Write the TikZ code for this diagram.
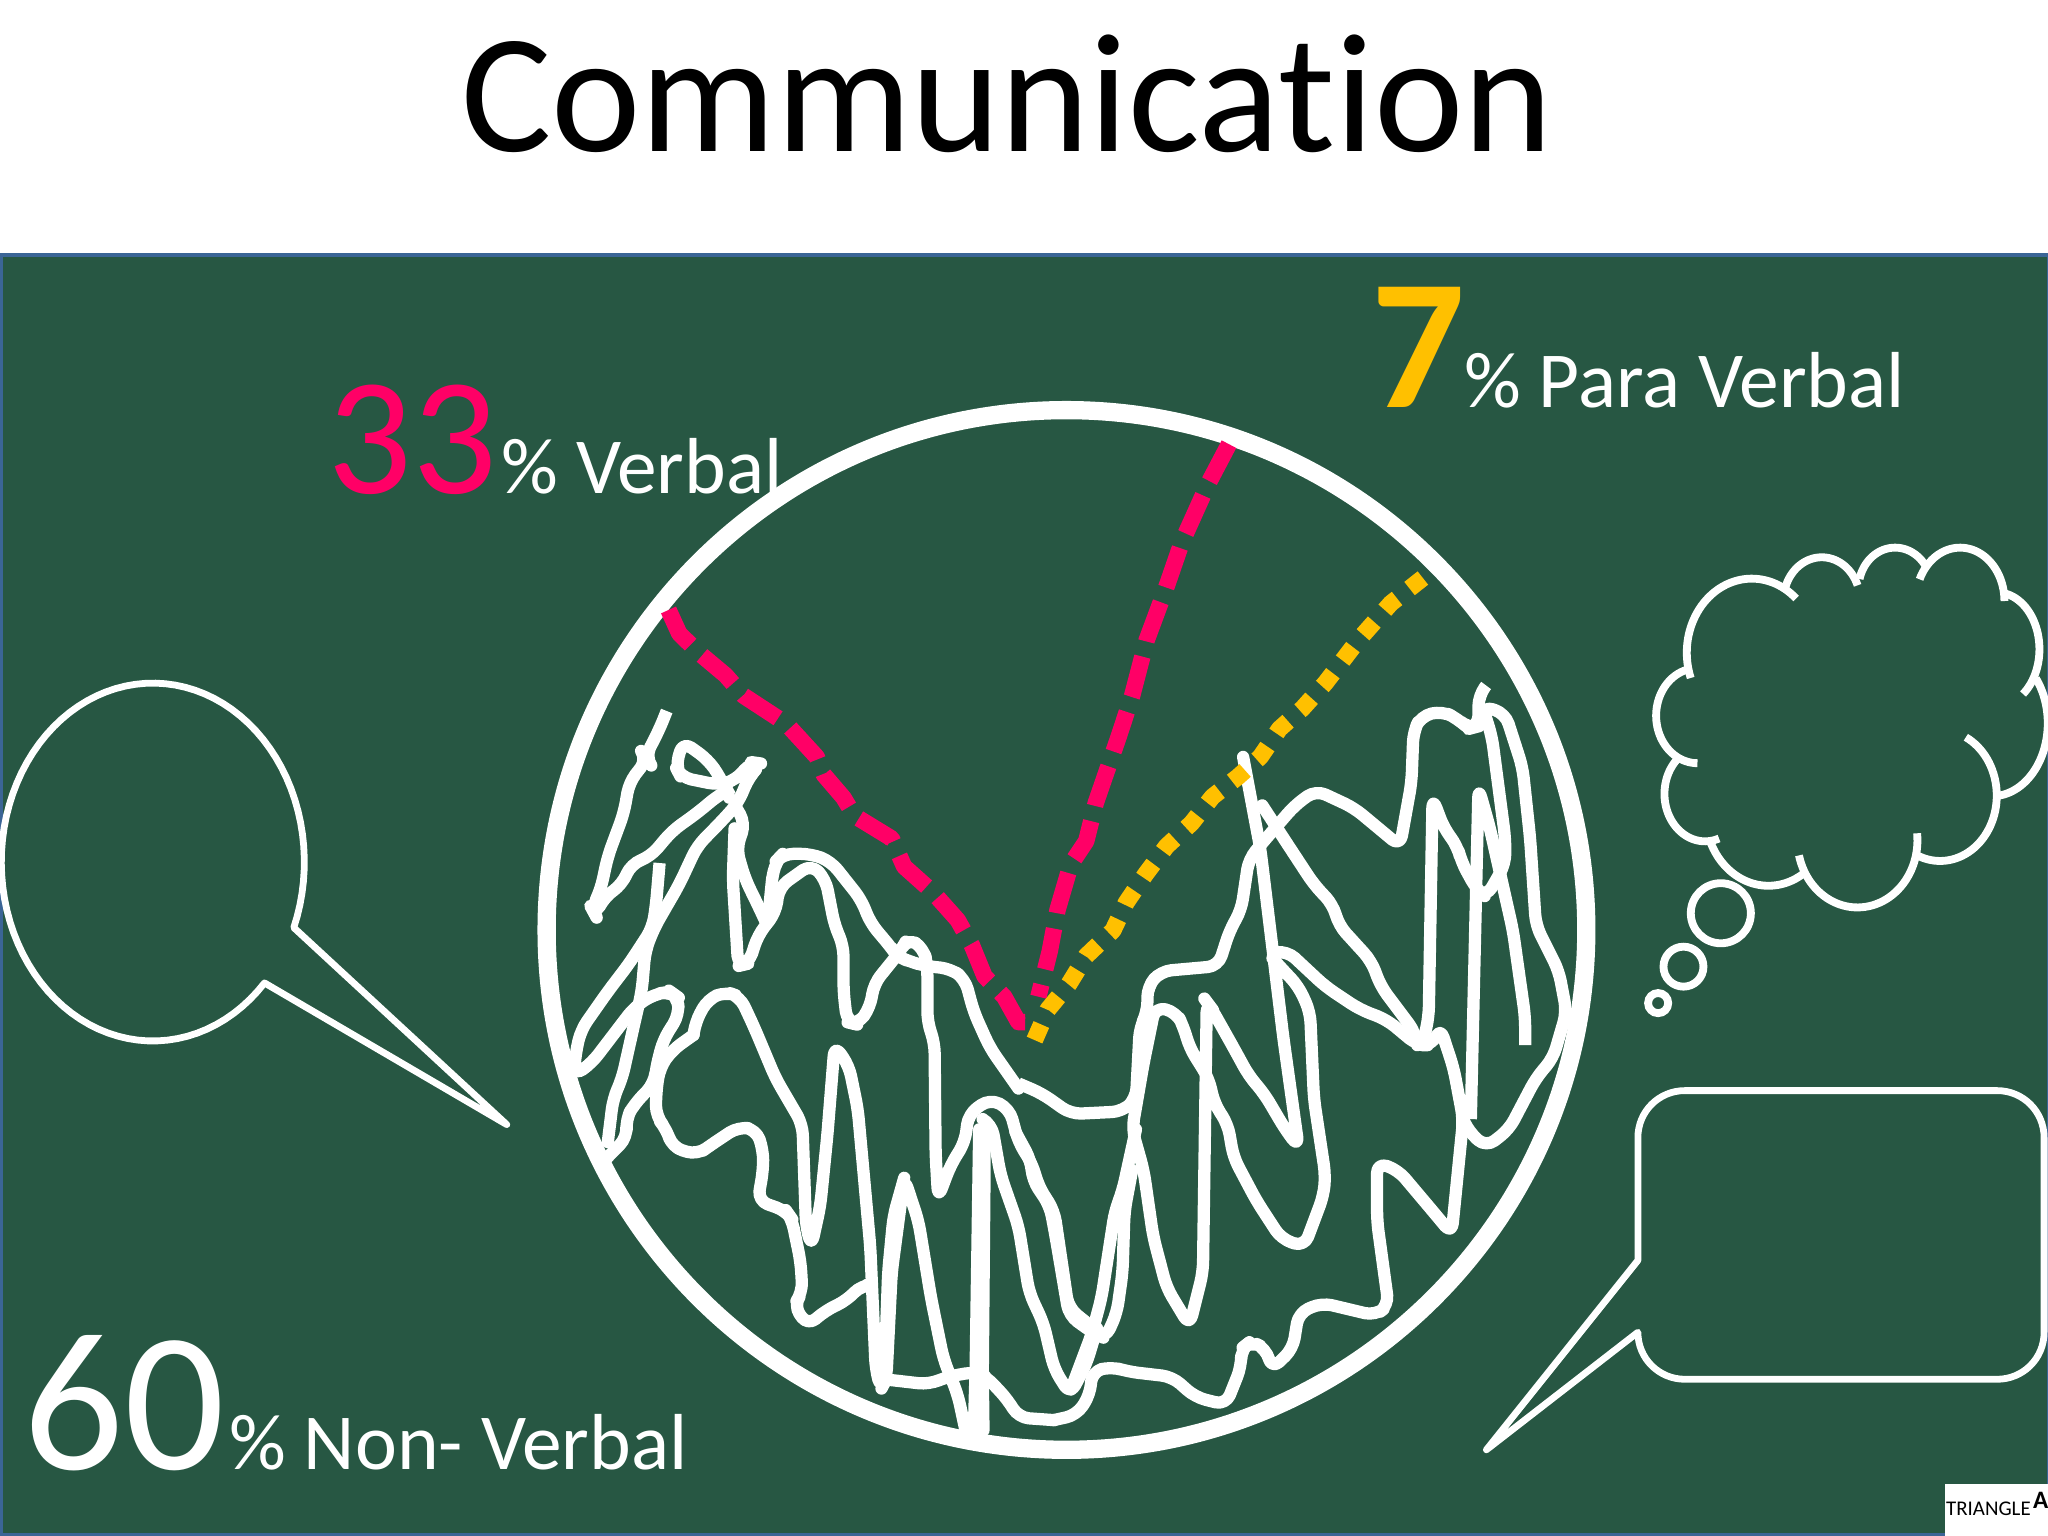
\documentclass[tikz,border=0pt]{standalone}
\usepackage{fontspec}
\setmainfont{Carlito}[Ligatures=NoCommon]
\definecolor{board}{HTML}{275743}
\definecolor{edge}{HTML}{3B6596}
\definecolor{hotpink}{HTML}{FF0066}
\definecolor{amber}{HTML}{FFC000}
\tikzset{
 ridge/.style={draw=white,line width=4.7pt,line join=round,line cap=round,rounded corners=4pt},
 cloudarc/.style={draw=white,line width=3pt,line cap=butt},
 balloon/.style={draw=white,line width=2.6pt,line join=round},
 pinkdash/.style={draw=hotpink,line width=6.3pt,dash pattern=on 16pt off 6pt,line join=round},
 ambdash/.style={draw=amber,line width=6.5pt,dash pattern=on 6.5pt off 6.1pt,line join=round},
 lab/.style={anchor=base west,inner sep=0pt,outer sep=0pt,text=white},
 zone/.style={shift={(413.4,505.3)},x=0.1367pt,y=-0.1953pt},
 ztwo/.style={shift={(765.7,505.3)},x=0.1465pt,y=-0.1953pt},
 zcloud/.style={shift={(1240.4,398.2)},x=0.1276pt,y=-0.1318pt},
}
\newcommand{\fsz}[1]{\fontsize{#1}{#1}\selectfont}
\newcommand{\puff}[6]{\draw[cloudarc] plot[domain=#5:#6,samples=50] ({#1+#3*cos(\x)},{#2+#4*sin(\x)});}
\begin{document}
\begin{tikzpicture}[x=0.5pt,y=-0.5pt]
\useasboundingbox (0,0) rectangle (1568,1176);
\fill[white] (0,0) rectangle (1568,1176);
\path[fill=board,draw=edge,line width=1.6pt] (0.8,195.5) rectangle (1568.5,1175);
\node[lab,text=black] (title) at (353,116) {\fsz{64.9}Communication};
\node[lab,text=hotpink] (n33) at (251,378) {\fsz{64}33};
\node[lab] (t33) at (384,378) {\fsz{30.4}\% Verbal};
\node[lab,text=amber] (n7) at (1050,312) {\fsz{71}\bfseries 7};
\node[lab] (t7) at (1121,312) {\fsz{30.4}\% Para Verbal};
\node[lab] (n60) at (18,1125) {\fsz{76}60};
\node[lab] (t60) at (175.5,1125) {\fsz{30.4}\% Non- Verbal};
% big circle
\draw[white,line width=7pt] (816.5,712) circle[radius=398];
% left speech balloon
\draw[balloon] plot[domain=42.5:381.5,samples=90] ({117+116*cos(\x)},{660+137*sin(\x)}) -- (388,861) -- cycle;
% rectangular callout
\draw[balloon] (1254,965) -- (1254,871) .. controls (1254,851) and (1270,835) .. (1290,835) -- (1529,835) .. controls (1549,835) and (1565,851) .. (1565,871) -- (1565,1020) .. controls (1565,1040) and (1549,1056) .. (1529,1056) -- (1290,1056) .. controls (1270,1056) and (1254,1040) .. (1254,1020) -- (1138,1110) -- cycle;
% thought cloud
\begin{scope}[zcloud]
\puff{395}{385}{195}{215}{160}{313}
\puff{605}{235}{115}{127}{198}{339}
\puff{825}{200}{110}{120}{194}{327}
\puff{1020}{235}{133}{155}{204}{360}
\puff{1130}{375}{128}{165}{281}{412}
\puff{1115}{590}{168}{212}{-38}{88}
\puff{960}{800}{170}{190}{-63}{114}
\puff{712}{930}{180}{195}{-6}{167}
\puff{445}{850}{190}{212}{56}{159}
\puff{255}{795}{122}{138}{70}{226}
\puff{232}{568}{124}{138}{90}{260}
\end{scope}
\draw[cloudarc] (1317.5,699.2) circle[radius=23];
\draw[cloudarc] (1288.9,740.1) circle[radius=15.3];
\draw[cloudarc] (1269.5,768) circle[radius=7.7];
% mountains, left part
\begin{scope}[zone]
\draw[ridge,line cap=butt] (355,100)--(335,135)--(295,190)--(300,195)--(250,240)--(235,300)--(190,385)--(170,450)--(145,487)--(155,500)--(180,465)--(230,440)--(255,400)--(310,385)--(370,335)--(440,300)--(500,265)--(540,250);
\draw[ridge] (530,270)--(505,230)--(470,195)--(400,160)--(380,210)--(395,230)--(500,245)--(550,235)--(590,200)--(620,203)--(585,230)--(555,280)--(510,315)--(440,365)--(390,440)--(320,525)--(295,570)--(285,650)--(265,710)--(230,820)--(205,860)--(190,945);
\draw[ridge,line cap=butt] (335,398)--(325,480)--(315,525)--(250,595)--(190,650)--(115,725)--(100,770)--(95,815)--(145,790)--(265,680)--(320,655)--(365,650)--(385,660)--(390,695)--(345,745)--(325,800)--(320,830)--(265,870)--(240,900)--(245,935)--(175,985);
\draw[ridge] (430,735)--(435,710)--(470,665)--(520,650)--(560,660)--(600,720)--(660,820)--(735,910)--(745,1110)--(760,1150)--(785,1070)--(805,930)--(825,755)--(865,795)--(890,880)--(925,1150)--(940,1390)--(955,1430)--(970,1410)--(985,1200)--(1020,1015)--(1060,1100)--(1095,1250)--(1130,1370)--(1170,1440)--(1190,1505);
\draw[ridge] (430,735)--(370,765)--(335,800)--(325,850)--(325,895)--(355,920)--(370,955)--(440,970)--(480,950)--(555,915)--(605,920)--(625,960)--(625,1000)--(610,1060)--(690,1080)--(705,1095)--(730,1180)--(735,1240)--(710,1265)--(750,1305)--(800,1275)--(860,1255)--(900,1225)--(915,1225);
\draw[ridge] (1020,1015)--(990,1090)--(975,1200)--(965,1400);
\draw[ridge] (965,1410)--(1090,1420)--(1140,1405)--(1220,1395)--(1250,1405)--(1310,1450)--(1340,1485)--(1440,1490);
\draw[ridge] (545,330)--(540,430)--(555,600)--(585,595)--(610,540)--(660,495)--(670,445)--(760,400)--(800,430)--(825,520)--(850,560)--(850,650)--(860,710)--(890,715)--(925,680)--(935,635)--(1010,570)--(1030,545)--(1075,565)--(1085,600)--(1085,710)--(1105,750)--(1108,970)--(1115,1055)--(1150,990)--(1190,945)--(1200,890)--(1260,860)--(1315,880)--(1340,945)--(1380,990)--(1395,1030)--(1440,1080)--(1480,1270)--(1568,1320);
\draw[ridge] (650,430)--(660,395)--(680,380)--(760,380)--(815,395)--(900,470)--(925,515)--(985,565)--(1000,580)--(1030,590)--(1080,600)--(1150,605)--(1190,625)--(1215,690)--(1260,760)--(1300,800)--(1340,840);
\draw[ridge] (550,290)--(575,320)--(550,370)--(575,430)--(610,480)--(630,510);
\draw[ridge] (640,500)--(650,430);
\draw[ridge,rounded corners=0pt] (1230,920)--(1220,1390)--(1215,1510);
\draw[ridge,rounded corners=0pt] (1242,1510)--(1240,1400)--(1245,1000)--(1245,915);
\draw[ridge] (1240,900)--(1265,910)--(1290,1010)--(1340,1110)--(1370,1240)--(1410,1300)--(1440,1390)--(1485,1440)--(1530,1380)--(1560,1310);
\end{scope}
% mountains, right part
\begin{scope}[ztwo]
\draw[ridge,line cap=butt] (48,830)--(110,850)--(185,890)--(320,885)--(355,860)--(365,720)--(385,690)--(385,640)--(420,610)--(570,600)--(600,530)--(630,490)--(650,390)--(695,350)--(770,285)--(825,255)--(925,290)--(1045,365)--(1075,240)--(1080,140)--(1100,110)--(1155,100)--(1195,115)--(1225,135)--(1250,130)--(1250,70)--(1270,50);
\draw[ridge] (635,190)--(680,370)--(740,740)--(780,955)--(745,920)--(690,850)--(650,815)--(610,760)--(550,680)--(540,670)--(530,1200)--(495,1305)--(435,1230)--(400,1130)--(375,1000)--(345,920)--(375,790)--(405,680)--(460,690)--(480,720)--(495,760)--(545,820)--(560,870)--(595,910)--(610,975)--(670,1060)--(735,1135)--(795,1150)--(845,1050)--(850,1010)--(820,860)--(810,690)--(780,640)--(730,600)--(700,575)--(750,570)--(850,640)--(940,685)--(1010,705)--(1090,755)--(1130,755)--(1150,720)--(1185,800)--(1210,900)--(1180,1125)--(1130,1080)--(1040,1000)--(985,985)--(985,1100)--(1015,1265)--(980,1285)--(840,1260)--(780,1280)--(765,1350)--(710,1390)--(695,1350)--(655,1335)--(630,1350)--(630,1385)--(590,1460)--(510,1445)--(450,1405)--(335,1395)--(290,1385)--(240,1395)--(235,1440)--(200,1480)--(140,1490);
\draw[ridge] (685,285)--(750,360)--(820,440)--(870,480)--(885,520)--(970,590)--(995,640)--(1085,730)--(1090,755);
\draw[ridge] (1105,750)--(1120,700)--(1130,270)--(1160,330)--(1195,365)--(1205,395)--(1245,450)--(1270,465)--(1320,400)--(1320,350)--(1285,150)--(1260,90)--(1320,105)--(1365,210)--(1385,350)--(1400,520)--(1460,610)--(1480,690)--(1445,780)--(1400,820)--(1330,920)--(1270,955)--(1225,925)--(1210,900);
\draw[ridge,line cap=butt] (1230,900)--(1250,250)--(1280,330)--(1340,530)--(1372,700)--(1372,755);
\draw[ridge] (355,920)--(320,1040)--(300,1080)--(265,1250)--(240,1320)--(185,1430);
\draw[ridge] (345,1000)--(325,1080)--(320,1200)--(305,1280)--(275,1330)--(245,1320)--(180,1285)--(145,1130)--(130,1070)--(85,1020)--(80,980)--(40,925);
\end{scope}
% dashed pointers
\begin{scope}[zone]
\draw[pinkdash] (360,-98)--(390,-52)--(445,-14)--(520,30)--(570,70)--(690,125)--(775,190)--(795,225)--(850,270)--(880,305)--(985,350)--(1020,405)--(1100,455)--(1170,510)--(1210,560)--(1245,620)--(1300,660)--(1340,710)--(1380,710);
\end{scope}
\begin{scope}[ztwo]
\draw[pinkdash] (598,-423)--(544,-346)--(475,-231)--(434,-142)--(383,-39)--(345,70)--(310,150)--(250,280)--(225,355)--(185,400)--(150,490)--(130,570)--(100,660);
\draw[ambdash] (90,745)--(125,685)--(180,635)--(225,580)--(295,530)--(330,475)--(380,420)--(435,365)--(500,320)--(555,268)--(620,230)--(680,190)--(730,135)--(790,95)--(850,45)--(936,-39)--(1021,-111)--(1107,-162);
\end{scope}
% logo
\fill[white] (1489,1136) rectangle (1568,1176);
\node[lab,text=black] (logo) at (1490,1160) {\fsz{8}TRIANGLE};
\node[lab,text=black] (logoa) at (1556.5,1155) {\fsz{9.6}\bfseries A};
\end{tikzpicture}
\end{document}
